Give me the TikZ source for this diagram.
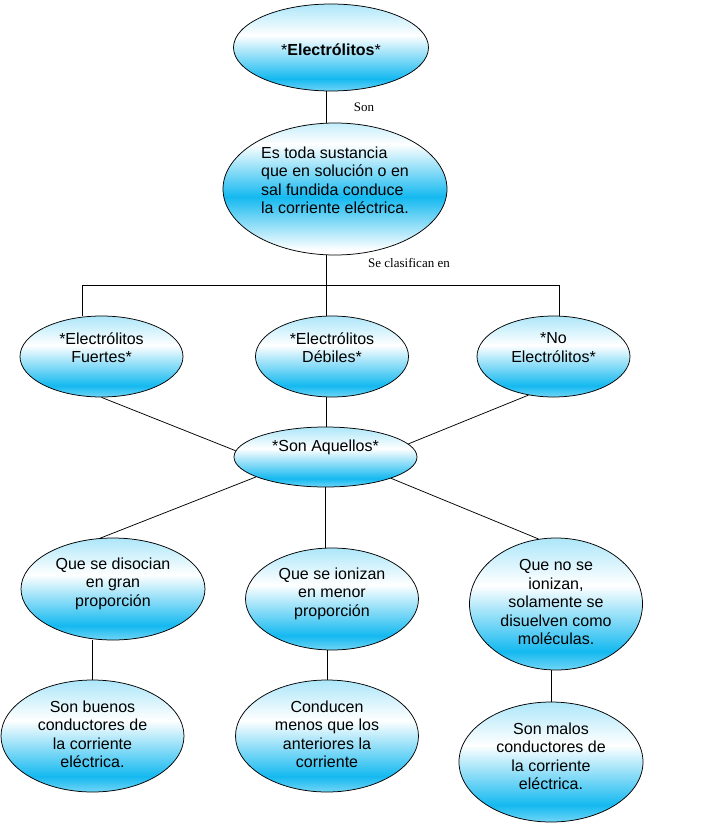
\documentclass[tikz,border=0pt]{standalone}
\usepackage{fontspec}
\setmainfont{Liberation Sans}
\newfontfamily\timesfont{Liberation Serif}
\usetikzlibrary{shapes.geometric}
\definecolor{skyb}{RGB}{20,185,240}
\pgfdeclareverticalshading{ellshade}{100bp}{color(0bp)=(skyb!60); color(25bp)=(skyb!60); color(32bp)=(skyb); color(57bp)=(white); color(75bp)=(skyb!35); color(100bp)=(skyb!35)}
\pgfdeclareverticalshading{midshade}{100bp}{color(0bp)=(white); color(27bp)=(white); color(47bp)=(skyb); color(67bp)=(white); color(75bp)=(skyb!25); color(100bp)=(skyb!25)}

\begin{document}
\begin{tikzpicture}[x=1pt,y=-1pt,line width=0.75pt,
  concept/.style={ellipse, draw, shading=ellshade, inner sep=0pt, align=center, text depth=14pt, font=\fontsize{16}{18.5}\selectfont},
  lbl/.style={font=\timesfont\fontsize{13}{15}\selectfont}]
\useasboundingbox (0,0) rectangle (719,835);
% top of the map
\node[concept, minimum width=195pt, minimum height=87pt, text height=19pt, text depth=4pt] (electro) at (331,47.5) {*\textbf{Electrólitos}*};
\node[concept, shading=midshade, align=left, minimum width=224pt, minimum height=132pt, text depth=18pt] (defin) at (335,189) {Es toda sustancia\\que en solución o en\\sal fundida conduce\\la corriente eléctrica.};
% the three kinds
\node[concept, minimum width=163pt, minimum height=81pt, text depth=18pt] (fuertes) at (101.5,356.5) {*Electrólitos\\Fuertes*};
\node[concept, minimum width=153pt, minimum height=81pt, text depth=18pt] (debiles) at (332,356.5) {*Electrólitos\\Débiles*};
\node[concept, minimum width=153pt, minimum height=81pt, text depth=18pt] (noelec) at (553.5,356.5) {*No\\Electrólitos*};
\node[concept, minimum width=183pt, minimum height=60pt, text depth=22pt] (aquellos) at (325.5,457) {*Son Aquellos*};
% what they do
\node[concept, minimum width=184pt, minimum height=102pt] (disocian) at (113,589) {Que se disocian\\en gran\\proporción};
\node[concept, minimum width=173pt, minimum height=102pt] (menor) at (332,599) {Que se ionizan\\en menor\\proporción};
\node[concept, minimum width=173pt, minimum height=132pt, text depth=4pt] (noioniz) at (556,604) {Que no se\\ionizan,\\solamente se\\disuelven como\\moléculas.};
\node[concept, minimum width=183pt, minimum height=112pt, text depth=4pt] (buenos) at (92.5,736) {Son buenos\\conductores de\\la corriente\\eléctrica.};
\node[concept, minimum width=183pt, minimum height=112pt, text depth=4pt] (conducen) at (327,736) {Conducen\\menos que los\\anteriores la\\corriente};
\node[concept, minimum width=184pt, minimum height=120pt, text depth=12pt] (malos) at (551,762) {Son malos\\conductores de\\la corriente\\eléctrica.};
% labels on the trunk
\node[lbl] (son) at (364,107) {Son};
\node[lbl] (clasif) at (409,263) {Se clasifican en};
\coordinate (trunk) at (326,285);
\coordinate (lft) at (82,285);
\coordinate (rgt) at (559,285);
% connectors
\draw (trunk |- electro.south) -- (trunk |- defin.north);
\draw (trunk |- defin.south) -- (trunk);
\draw (lft |- fuertes.north) -- (lft) -- (rgt) -- (rgt |- noelec.north);
\draw (trunk) -- (trunk |- debiles.north);
\draw (trunk |- debiles.south) -- (trunk |- aquellos.north);
\draw (fuertes.south) -- (aquellos.176);
\draw (noelec.237) -- (aquellos.9);
\draw (aquellos.196) -- (disocian.104);
\draw (aquellos.south) -- (aquellos.south |- menor.north);
\draw (aquellos.-18) -- (noioniz.105);
\draw (buenos.north) -- (buenos.north |- disocian.south);
\draw (conducen.north) -- (conducen.north |- menor.south);
\draw (malos.north) -- (malos.north |- noioniz.south);
\end{tikzpicture}
\end{document}
